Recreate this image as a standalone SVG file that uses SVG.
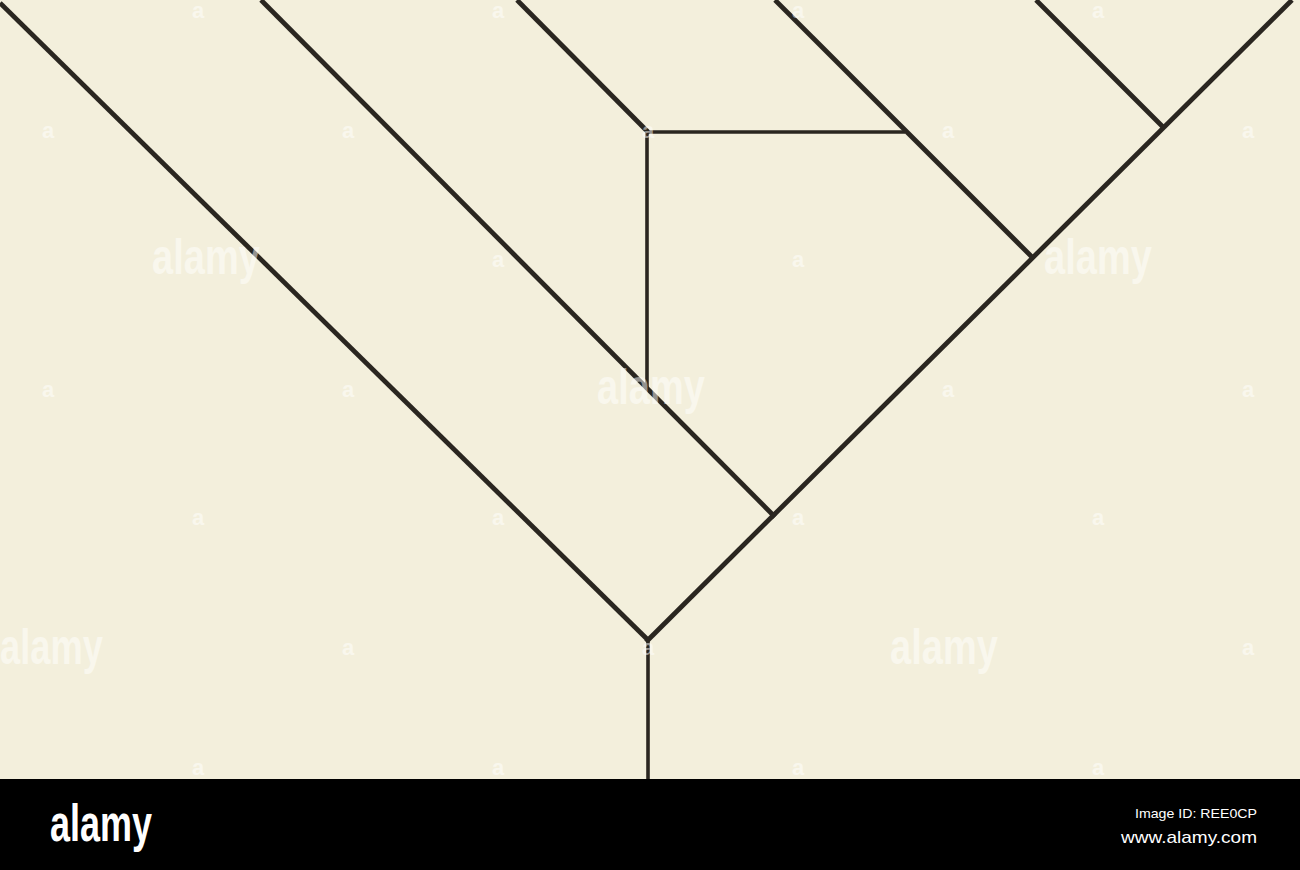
<svg xmlns="http://www.w3.org/2000/svg" width="1300" height="870" viewBox="0 0 1300 870">
  <style>
    .br { stroke: #2a2620; stroke-width: 4.8; stroke-linecap: butt; fill: none; }
    .thin { stroke: #2a2620; stroke-width: 3.6; fill: none; }
    .wm { font-family: "Liberation Sans", "DejaVu Sans", sans-serif; font-weight: bold; fill: #ffffff; fill-opacity: 0.5; }
    .wa { font-size: 22px; text-anchor: middle; }
    .wl { font-size: 50px; }
    .bar { font-family: "Liberation Sans", "DejaVu Sans", sans-serif; fill: #ffffff; }
  </style>
  <rect x="0" y="0" width="1300" height="870" fill="#f3efdc"/>
  <g id="connectors">
    <line class="br" x1="0" y1="3" x2="648" y2="640"/>
    <line class="br" x1="261" y1="0" x2="775" y2="517"/>
    <line class="br" x1="517" y1="0" x2="648" y2="132"/>
    <line class="br" x1="775" y1="0" x2="1033" y2="258"/>
    <line class="br" x1="1036" y1="0" x2="1163" y2="127"/>
    <line class="br" x1="1292" y1="0" x2="646" y2="642"/>
    <line class="thin" x1="647" y1="132" x2="905" y2="132"/>
    <line class="thin" x1="647" y1="130" x2="647" y2="390"/>
    <line class="thin" x1="648" y1="638" x2="648" y2="780"/>
  </g>
  <g id="watermark">
    <text class="wm wa" x="198" y="18">a</text>
    <text class="wm wa" x="498" y="18">a</text>
    <text class="wm wa" x="798" y="18">a</text>
    <text class="wm wa" x="1098" y="18">a</text>
    <text class="wm wa" x="48" y="138">a</text>
    <text class="wm wa" x="348" y="138">a</text>
    <text class="wm wa" x="648" y="138">a</text>
    <text class="wm wa" x="948" y="138">a</text>
    <text class="wm wa" x="1248" y="138">a</text>
    <text class="wm wa" x="498" y="267">a</text>
    <text class="wm wa" x="798" y="267">a</text>
    <text class="wm wa" x="48" y="397">a</text>
    <text class="wm wa" x="348" y="397">a</text>
    <text class="wm wa" x="948" y="397">a</text>
    <text class="wm wa" x="1248" y="397">a</text>
    <text class="wm wa" x="198" y="525">a</text>
    <text class="wm wa" x="498" y="525">a</text>
    <text class="wm wa" x="798" y="525">a</text>
    <text class="wm wa" x="1098" y="525">a</text>
    <text class="wm wa" x="348" y="655">a</text>
    <text class="wm wa" x="648" y="655">a</text>
    <text class="wm wa" x="1248" y="655">a</text>
    <text class="wm wa" x="198" y="775">a</text>
    <text class="wm wa" x="498" y="775">a</text>
    <text class="wm wa" x="798" y="775">a</text>
    <text class="wm wa" x="1098" y="775">a</text>
    <text class="wm wl" x="152" y="274" textLength="108" lengthAdjust="spacingAndGlyphs">alamy</text>
    <text class="wm wl" x="1044" y="274" textLength="108" lengthAdjust="spacingAndGlyphs">alamy</text>
    <text class="wm wl" x="597" y="404" textLength="108" lengthAdjust="spacingAndGlyphs">alamy</text>
    <text class="wm wl" x="0" y="664" textLength="103" lengthAdjust="spacingAndGlyphs">alamy</text>
    <text class="wm wl" x="890" y="664" textLength="108" lengthAdjust="spacingAndGlyphs">alamy</text>
  </g>
  <g id="footer">
    <rect x="0" y="779" width="1300" height="91" fill="#000000"/>
    <text class="bar" x="50" y="841" font-size="52" font-weight="bold" textLength="102" lengthAdjust="spacingAndGlyphs">alamy</text>
    <text class="bar" x="1257" y="818" font-size="13" text-anchor="end" fill="#e0e0e0" textLength="122" lengthAdjust="spacingAndGlyphs">Image ID: REE0CP</text>
    <text class="bar" x="1257" y="843" font-size="17" text-anchor="end" textLength="136" lengthAdjust="spacingAndGlyphs">www.alamy.com</text>
  </g>
</svg>
